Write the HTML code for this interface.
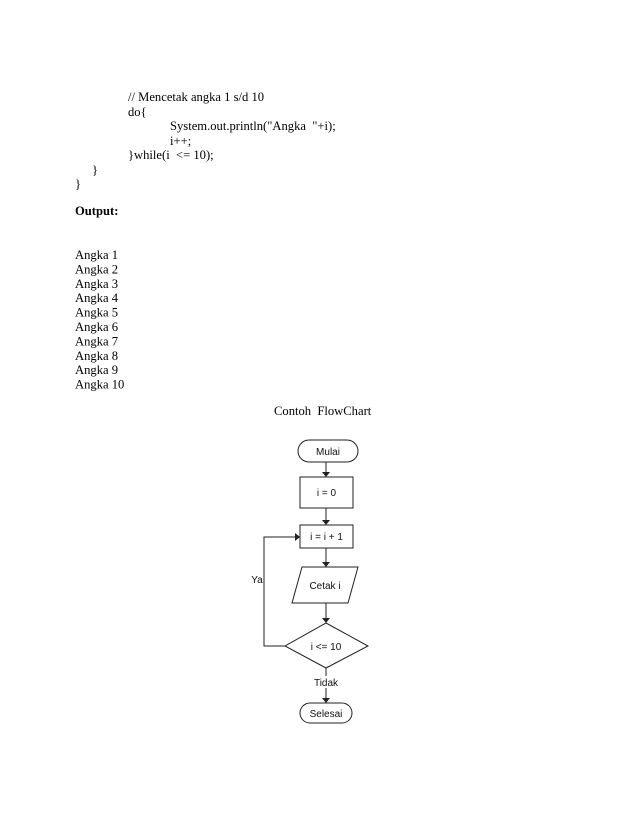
<!DOCTYPE html>
<html><head><meta charset="utf-8"><style>
html,body{margin:0;padding:0;background:#fff}
svg{display:block}
.t{font-family:"Liberation Serif",serif;font-size:12.6px;fill:#000;white-space:pre}
.s{font-family:"Liberation Sans",sans-serif;font-size:10px;fill:#111}
</style></head><body>
<svg width="638" height="826" viewBox="0 0 638 826" xmlns="http://www.w3.org/2000/svg">
<text class="t" x="128" y="101">// Mencetak angka 1 s/d 10</text>
<text class="t" x="128" y="116">do{</text>
<text class="t" x="170" y="130">System.out.println("Angka  "+i);</text>
<text class="t" x="170" y="145">i++;</text>
<text class="t" x="128" y="159">}while(i  &lt;= 10);</text>
<text class="t" x="92" y="174">}</text>
<text class="t" x="75" y="188">}</text>
<text class="t" x="75" y="215" font-weight="bold">Output:</text>
<g class="t">
<text x="75" y="259">Angka  1</text>
<text x="75" y="273.4">Angka  2</text>
<text x="75" y="287.8">Angka  3</text>
<text x="75" y="302.2">Angka  4</text>
<text x="75" y="316.6">Angka  5</text>
<text x="75" y="331">Angka  6</text>
<text x="75" y="345.4">Angka  7</text>
<text x="75" y="359.8">Angka  8</text>
<text x="75" y="374.2">Angka  9</text>
<text x="75" y="388.6">Angka  10</text>
</g>
<text class="t" x="274" y="415">Contoh  FlowChart</text>
<g fill="none" stroke="#222" stroke-width="1">
<rect x="298" y="440" width="60" height="22" rx="11"/>
<rect x="300" y="477" width="53" height="31"/>
<rect x="300" y="525" width="53" height="23"/>
<polygon points="302,567 358,567 348,603 292,603"/>
<polygon points="326,623 368,646 326,668 285,646"/>
<rect x="300" y="703" width="52" height="20" rx="10"/>
<line x1="326" y1="462" x2="326" y2="472"/>
<line x1="326" y1="508" x2="326" y2="520"/>
<line x1="326" y1="548" x2="326" y2="562"/>
<line x1="326" y1="603" x2="326" y2="618"/>
<line x1="326" y1="668" x2="326" y2="676"/>
<line x1="326" y1="688" x2="326" y2="698"/>
<polyline points="285,646 264,646 264,537 295,537"/>
</g>
<g fill="#222">
<polygon points="322,472 330,472 326,477"/>
<polygon points="322,520 330,520 326,525"/>
<polygon points="322,562 330,562 326,567"/>
<polygon points="322,618 330,618 326,623"/>
<polygon points="322,698 330,698 326,703"/>
<polygon points="295,533 295,541 300,537"/>
</g>
<g class="s" text-anchor="middle">
<text x="328" y="455">Mulai</text>
<text x="326.5" y="496">i = 0</text>
<text x="326.5" y="540">i = i + 1</text>
<text x="325" y="589">Cetak i</text>
<text x="326" y="650">i &lt;= 10</text>
<text x="326" y="686">Tidak</text>
<text x="326" y="717">Selesai</text>
<text x="257" y="583">Ya</text>
</g>
</svg>
</body></html>
